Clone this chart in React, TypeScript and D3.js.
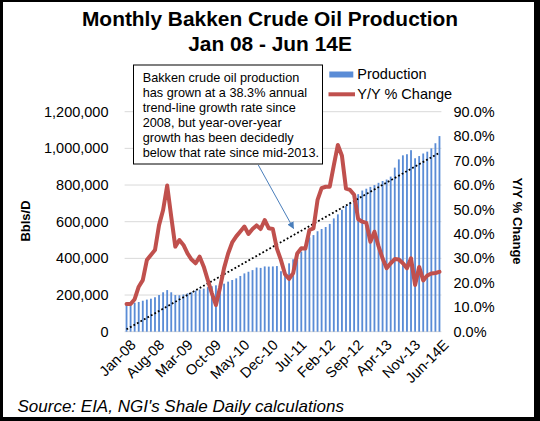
import * as d3 from "d3"

// monthly categories Jan-08 .. Jun-14 (78 months)
const months = d3.timeMonth.range(new Date(2008, 0, 1), new Date(2014, 6, 1))
const tickLabels = ["Jan-08", "Aug-08", "Mar-09", "Oct-09", "May-10", "Dec-10", "Jul-11", "Feb-12", "Sep-12", "Apr-13", "Nov-13", "Jun-14E"]
const tickEvery = 7

// production, bbl/d
const production = [
  155000, 155000, 158000, 162000, 169000, 175000, 180000, 188000, 200000, 215000,
  227000, 215000, 200000, 199000, 203000, 209000, 215000, 224000, 230000, 235000,
  243000, 248000, 253000, 258000, 262000, 273000, 282000, 291000, 304000, 318000,
  327000, 336000, 350000, 348000, 356000, 355000, 356000, 358000, 330000, 320000,
  373000, 395000, 425000, 437000, 446000, 515000, 527000, 548000, 560000, 571000,
  588000, 618000, 640000, 665000, 685000, 705000, 725000, 750000, 770000, 780000,
  790000, 800000, 812000, 822000, 830000, 846000, 895000, 940000, 962000, 968000,
  990000, 946000, 958000, 972000, 982000, 1000000, 1028000, 1067000,
]

// year-over-year change, %
const yoyChange = [
  11.3, 11.3, 13.3, 18.4, 21.1, 29.3, 31.4, 33.4, 43.6, 49.8,
  59.8, 47, 34.8, 37.5, 35.5, 32, 29.5, 28, 30.7, 26.6,
  21.1, 15.7, 10.9, 18, 26, 32, 36.5, 39, 41, 43,
  40, 42, 43.5, 42, 45.7, 42.3, 42, 34, 29.3, 23.5,
  21.6, 24, 32, 34.1, 34, 41.6, 42.3, 53.9, 58.7, 59.3,
  59.3, 68, 76.4, 72, 58.5, 58, 56, 46, 45, 44.5,
  36.8, 40.9, 35, 30, 26, 28, 29.7, 29.5, 28, 26,
  30, 19.1, 26.5, 21, 23, 23.8, 24, 24.5,
]

// linear trend line, value at first and last month
const trendEnds = [13000, 976000]

const leftTicks = [0, 200000, 400000, 600000, 800000, 1000000, 1200000]
const rightTicks = [0, 10, 20, 30, 40, 50, 60, 70, 80, 90]

const noteLines = [
  "Bakken crude oil production",
  "has grown at a 38.3% annual",
  "trend-line growth rate since",
  "2008, but year-over-year",
  "growth has been decidedly",
  "below that rate since mid-2013.",
]

const font = "'Liberation Sans', Arial, sans-serif"
const blue = "#5a8cd6"
const red = "#c0504d"

export default function App() {
  const W = 540
  const H = 421
  const plot = { left: 124.6, right: 441.4, top: 111.7, bottom: 331.7 }

  const idx = d3.range(months.length)
  const x = d3.scaleBand<number>().domain(idx).range([plot.left, plot.right]).paddingInner(0.55).paddingOuter(0.25)
  const cx = (i: number) => (x(i) || 0) + x.bandwidth() / 2
  const y = d3.scaleLinear().domain([0, 1200000]).range([plot.bottom, plot.top])
  const y2 = d3.scaleLinear().domain([0, 90]).range([plot.bottom, plot.top])

  const yoyLine = d3
    .line<number>()
    .x((_, i) => cx(i))
    .y((d) => y2(d))(yoyChange)

  const last = months.length - 1
  const fmtLeft = d3.format(",")
  const fmtRight = (v: number) => d3.format(".1f")(v) + "%"

  return (
    <svg width={W} height={H} style={{ position: "absolute", left: 0, top: 0, fontFamily: font }}>
      <defs>
        <marker id="arrow" viewBox="0 0 10 10" refX="9" refY="5" markerWidth="7" markerHeight="7" orient="auto">
          <path d="M0,0 L10,5 L0,10 z" fill="#4a7ebb" />
        </marker>
      </defs>
      <rect x={0} y={0} width={W} height={H} fill="#000" />
      <rect x={3} y={2} width={531} height={415} fill="#fff" />

      {/* title */}
      <text x={270} y={26} textAnchor="middle" fontSize={20.9} fontWeight="bold">
        Monthly Bakken Crude Oil Production
      </text>
      <text x={270} y={51} textAnchor="middle" fontSize={20.9} fontWeight="bold">
        Jan 08 - Jun 14E
      </text>

      {/* gridlines */}
      {leftTicks.map((t) => (
        <line key={t} x1={plot.left} x2={plot.right} y1={y(t)} y2={y(t)} stroke="#d9d9d9" strokeWidth={1} />
      ))}

      {/* bars */}
      {production.map((v, i) => (
        <rect key={i} x={x(i)} y={y(v)} width={x.bandwidth()} height={y(0) - y(v)} fill={blue} />
      ))}

      {/* trend */}
      <line
        x1={cx(0)}
        y1={y(trendEnds[0])}
        x2={cx(last)}
        y2={y(trendEnds[1])}
        stroke="#000"
        strokeWidth={1.8}
        strokeDasharray="1.8 2.2"
      />

      {/* y/y line */}
      <path d={yoyLine || ""} fill="none" stroke={red} strokeWidth={4} strokeLinejoin="round" strokeLinecap="round" />

      {/* left axis */}
      {leftTicks.map((t) => (
        <text key={t} x={108.5} y={y(t)} dy="0.35em" textAnchor="end" fontSize={14.5} fill="#000">
          {fmtLeft(t)}
        </text>
      ))}
      <text transform="translate(30,221) rotate(-90)" textAnchor="middle" fontSize={13} fontWeight="bold">
        Bbls/D
      </text>

      {/* right axis */}
      {rightTicks.map((t) => (
        <text key={t} x={453.5} y={y2(t)} dy="0.35em" fontSize={14.5} fill="#000">
          {fmtRight(t)}
        </text>
      ))}
      <text transform="translate(513,221) rotate(90)" textAnchor="middle" fontSize={13} fontWeight="bold">
        Y/Y % Change
      </text>

      {/* x axis labels */}
      {tickLabels.map((lab, k) => (
        <text
          key={lab}
          transform={`translate(${cx(k * tickEvery) + 3},${plot.bottom + 7}) rotate(-45)`}
          textAnchor="end"
          dy="0.7em"
          fontSize={14.5}
        >
          {lab}
        </text>
      ))}

      {/* annotation */}
      <line x1={258.3} y1={165} x2={293.5} y2={228.5} stroke="#4a7ebb" strokeWidth={1} markerEnd="url(#arrow)" />
      <rect x={133.5} y={65} width={189} height={99} fill="#fff" stroke="#000" strokeWidth={1} />
      {noteLines.map((l, i) => (
        <text key={i} x={142.7} y={81.7 + i * 15} fontSize={12.7}>
          {l}
        </text>
      ))}

      {/* legend */}
      <rect x={329.3} y={71.5} width={24} height={6} fill={blue} />
      <text x={357.3} y={79.2} fontSize={14.5}>
        Production
      </text>
      <line x1={328.5} x2={355} y1={94.3} y2={94.3} stroke={red} strokeWidth={4} />
      <text x={357.3} y={99.3} fontSize={14.5}>
        Y/Y % Change
      </text>

      {/* source */}
      <text x={17.5} y={412} fontSize={17} fontStyle="italic">
        Source: EIA, NGI's Shale Daily calculations
      </text>
    </svg>
  )
}
